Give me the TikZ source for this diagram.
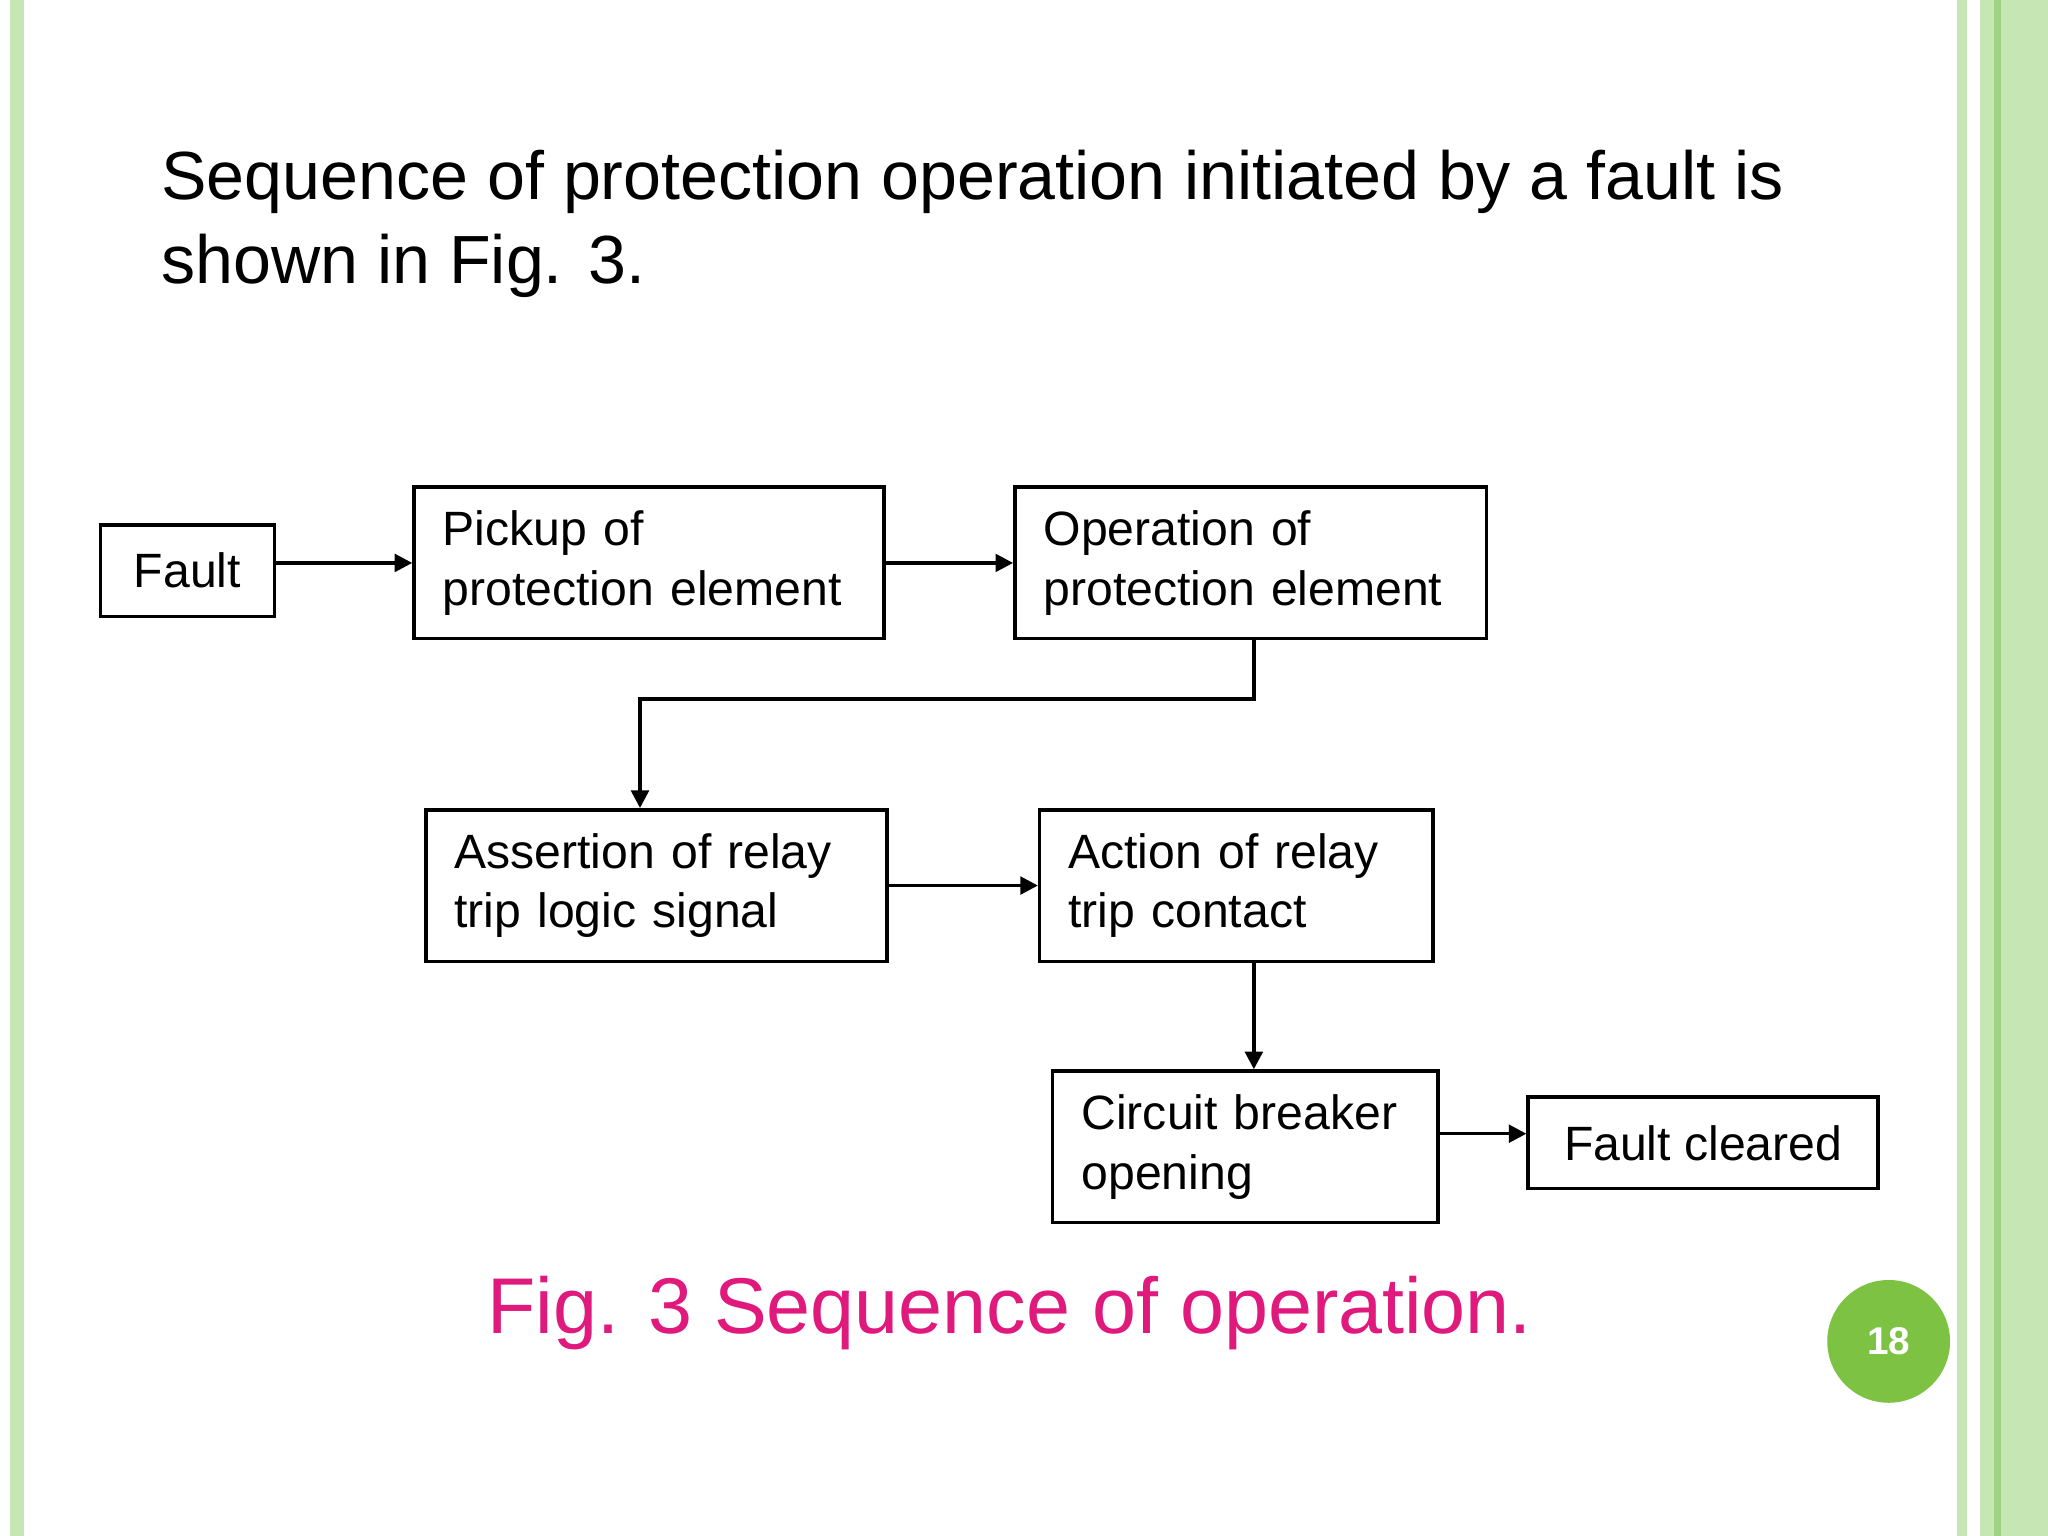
\documentclass[tikz,border=0pt]{standalone}
\usepackage{fontspec}
\setmainfont{Liberation Sans}
\usetikzlibrary{arrows.meta}
\newlength\pxu
\setlength\pxu{0.01306cm}
\definecolor{stripe}{HTML}{C6E6B4}
\definecolor{stripedark}{HTML}{9FD283}
\definecolor{figpink}{HTML}{E0197D}
\definecolor{pagegreen}{HTML}{7DC242}
\tikzset{
  box/.style={draw, line width=1pt, inner ysep=0pt, font=\fontsize{13.7}{17}\selectfont},
  lbox/.style={box, align=left, inner xsep=22\pxu},
  flow/.style={line width=1pt, -{Triangle[length=5pt,width=5pt]}}
}
\begin{document}
\begin{tikzpicture}[x=0.01306cm,y=-0.01306cm]
    \useasboundingbox (0,0) rectangle (1568,1176);
    \fill[white] (0,0) rectangle (1568,1176);
    % side stripes
    \fill[stripe] (8,0) rectangle (18,1176);
    \fill[stripe] (1498,0) rectangle (1506,1176);
    \fill[stripe] (1516,0) rectangle (1568,1176);
    \fill[stripedark] (1527,0) rectangle (1532,1176);

    \node[anchor=north west, align=left, inner sep=0pt, font=\fontsize{19.4}{24}\selectfont] (title) at (123,114)
      {Sequence of protection operation initiated by a fault is\\shown in Fig. 3.};

    \node[box, minimum width=133\pxu, minimum height=70\pxu] (fault) at (143.5,437) {Fault};
    \node[lbox, text width=316\pxu, minimum height=116\pxu] (pickup) at (497,431) {Pickup of\\protection element};
    \node[lbox, text width=317\pxu, minimum height=116\pxu] (oper) at (957.5,431) {Operation of\\protection element};
    \node[lbox, text width=309\pxu, minimum height=116\pxu] (assert) at (502.5,678) {Assertion of relay\\trip logic signal};
    \node[lbox, text width=257\pxu, minimum height=116\pxu] (action) at (946.5,678) {Action of relay\\trip contact};
    \node[lbox, text width=251\pxu, minimum height=116\pxu] (breaker) at (953.5,878) {Circuit breaker\\opening};
    \node[box, minimum width=268\pxu, minimum height=70\pxu] (cleared) at (1304,875) {Fault cleared};

    \coordinate (bend) at (490,535);
    \coordinate (drop) at (960,736);
    \draw[flow] (fault.east |- pickup.west) -- (pickup.west);
    \draw[flow] (pickup.east) -- (oper.west);
    \draw[flow] (oper.south -| drop) |- (bend) -- (bend |- assert.north);
    \draw[flow] (assert.east) -- (action.west);
    \draw[flow] (drop) -- (drop |- breaker.north);
    \draw[flow] (breaker.east) ++(0,-10) -- (cleared.west |- 0,868);

    \node[text=figpink, font=\fontsize{22.5}{26}\selectfont, inner sep=0pt] (caption) at (773,1005) {Fig. 3 Sequence of operation.};
    \node[circle, fill=pagegreen, minimum size=94\pxu, inner sep=0pt, text=white, font=\bfseries\fontsize{11}{13}\selectfont] (page) at (1446,1027) {18};
\end{tikzpicture}
\end{document}
